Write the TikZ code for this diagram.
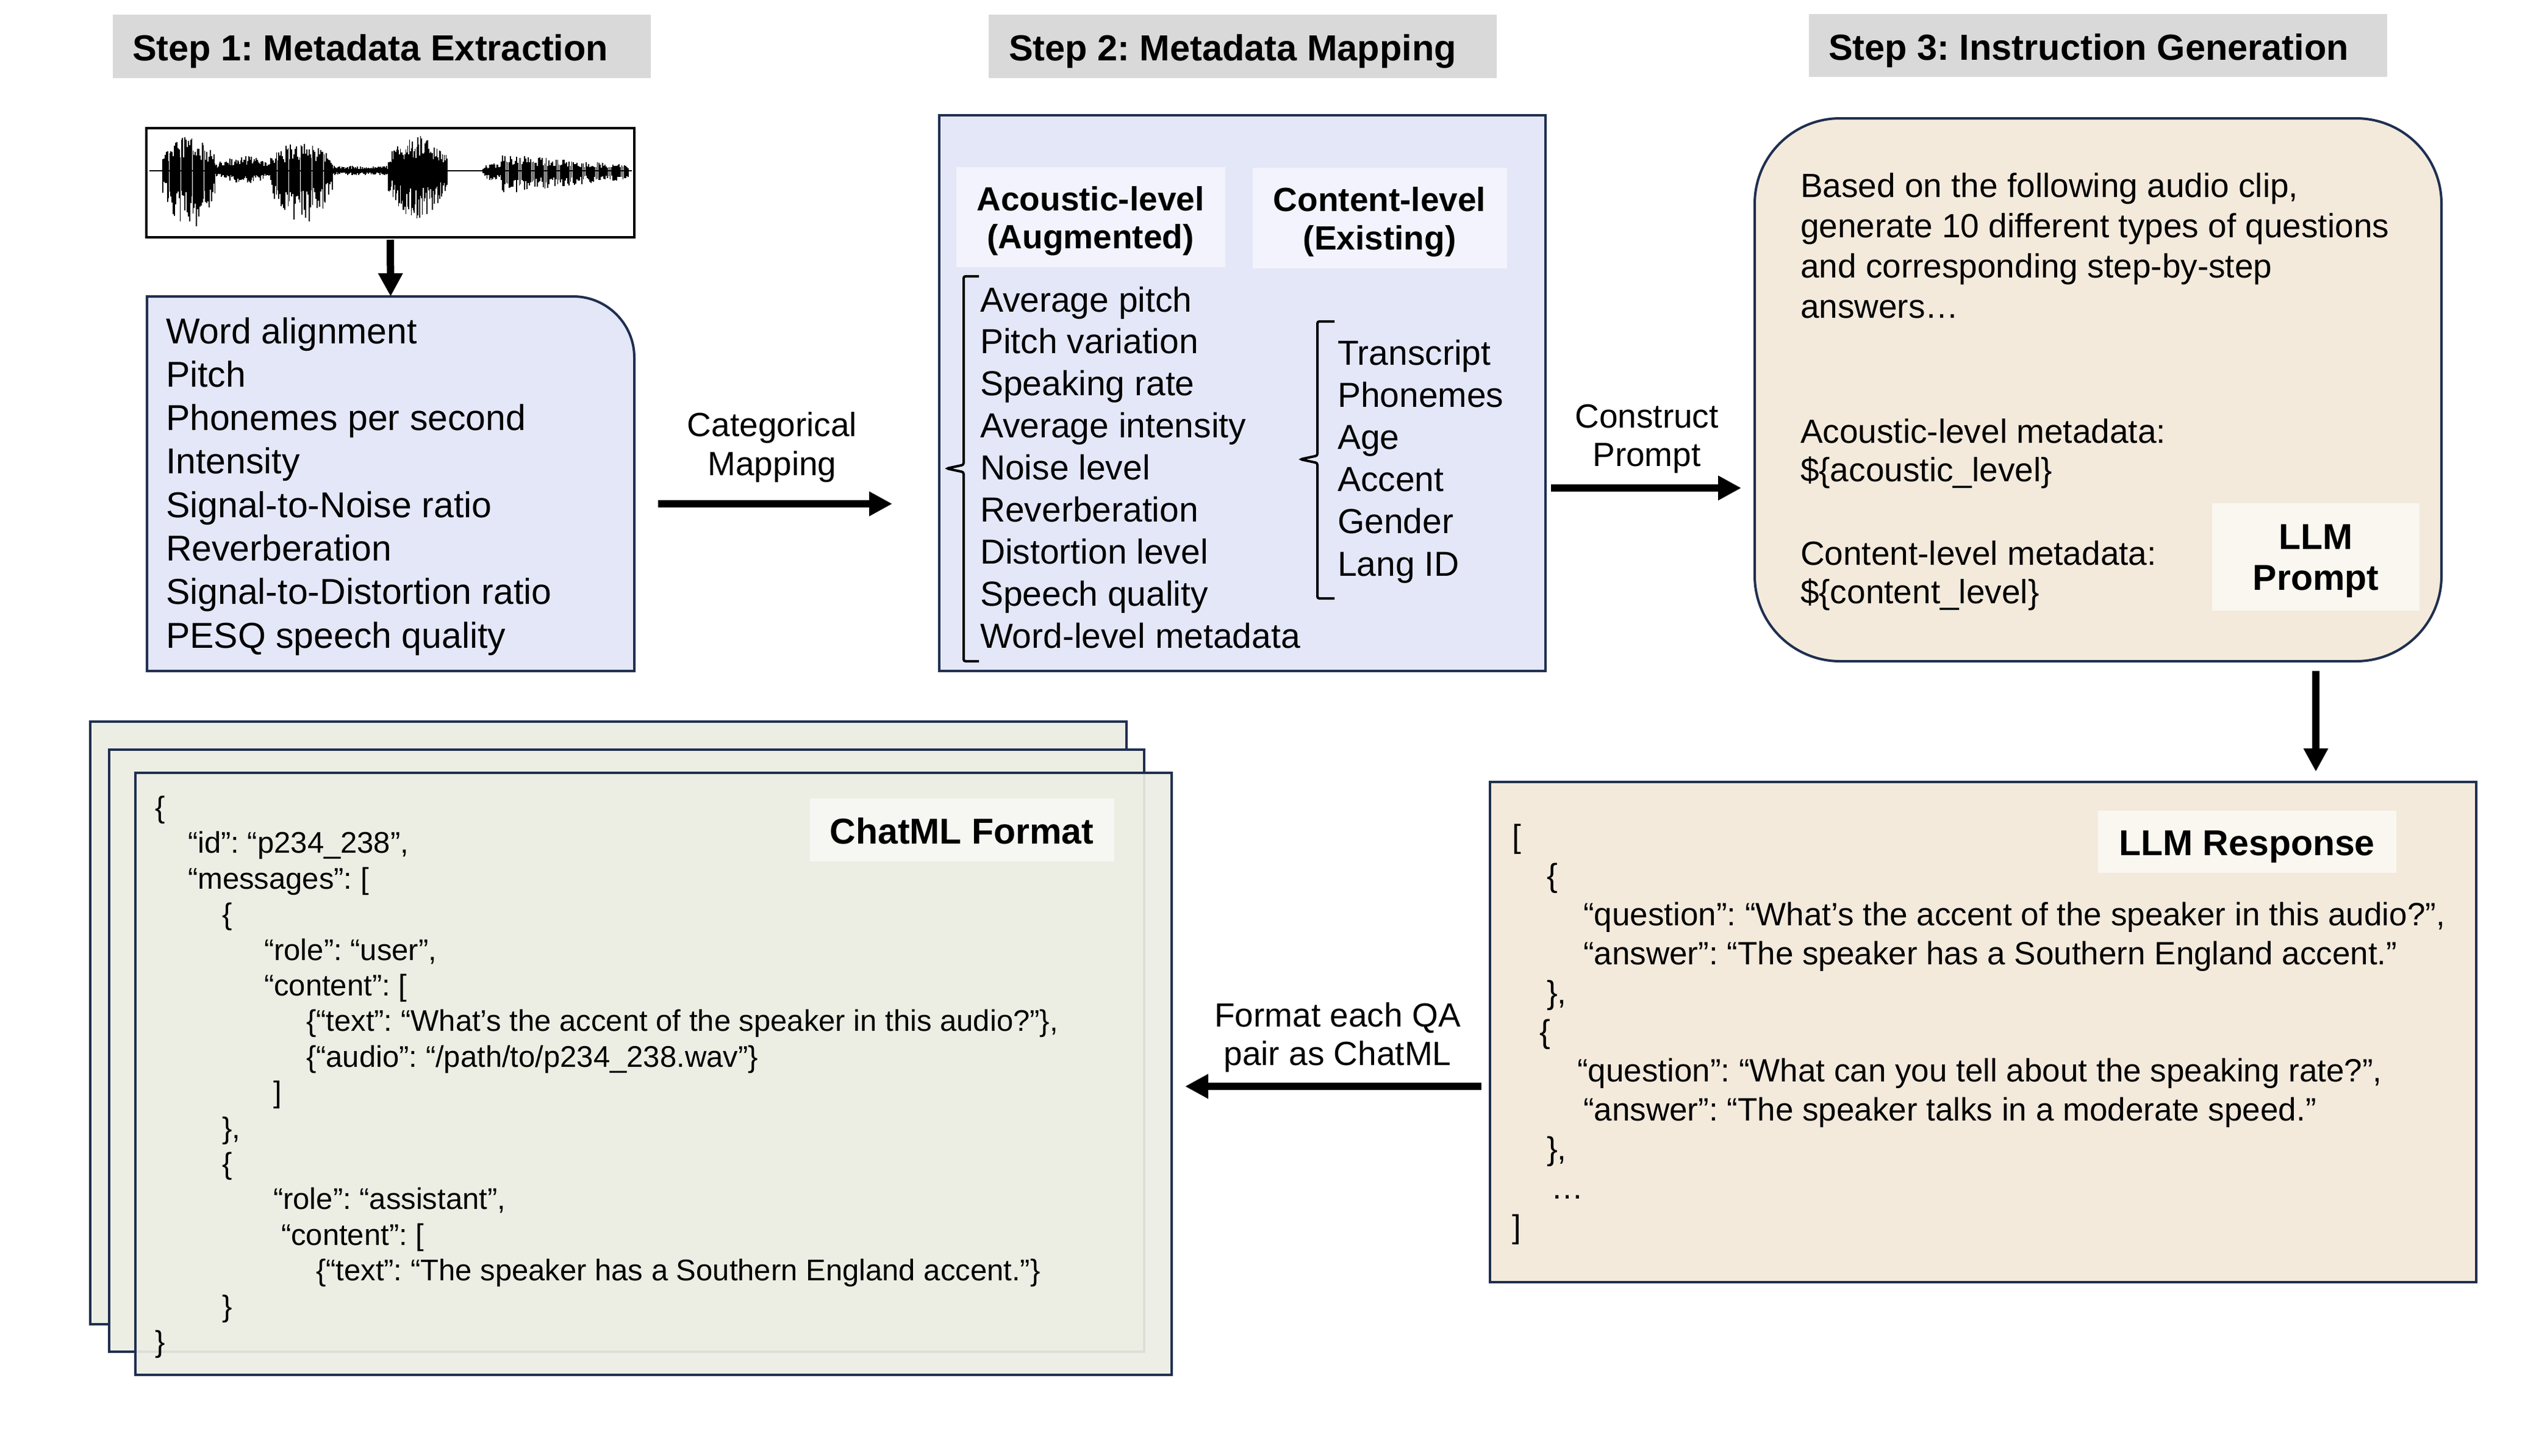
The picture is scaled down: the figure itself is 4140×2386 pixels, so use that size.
\documentclass[tikz,border=0pt]{standalone}
\usepackage{fontspec}
\setmainfont{Liberation Sans}
\usetikzlibrary{arrows.meta}
\frenchspacing
\definecolor{navy}{HTML}{1F2F50}
\definecolor{lav}{HTML}{E4E7F8}
\definecolor{lavhdr}{HTML}{F2F3FC}
\definecolor{beige}{HTML}{F3EADC}
\definecolor{beigelbl}{HTML}{FAF7F0}
\definecolor{sage}{HTML}{ECEEE4}
\definecolor{sagelbl}{HTML}{F6F7F2}
\definecolor{titlegray}{HTML}{D9D9D9}
\newcommand\fntBox{\fontsize{59pt}{71pt}\selectfont}
\newcommand\fntList{\fontsize{57pt}{69pt}\selectfont}
\newcommand\fntPr{\fontsize{55pt}{66pt}\selectfont}
\newcommand\fntResp{\fontsize{53pt}{64pt}\selectfont}
\newcommand\fntChat{\fontsize{49pt}{58pt}\selectfont}
\newcommand\fntEdge{\fontsize{55pt}{64pt}\selectfont}
\newcommand\fntTitle{\fontsize{59.5pt}{70pt}\selectfont\bfseries}
\newcommand\fntHdr{\fontsize{55pt}{64pt}\selectfont\bfseries}
\newcommand\fntLbl{\fontsize{59pt}{68pt}\selectfont\bfseries}
\begin{document}
\begin{tikzpicture}[x=1pt,y=-1pt,
  txt/.style={anchor=base west,inner sep=0pt,outer sep=0pt},
  ctxt/.style={anchor=base,inner sep=0pt,outer sep=0pt},
  bg/.style={anchor=north west,inner sep=0pt,outer sep=0pt,draw=none},
  frame/.style={anchor=north west,inner sep=0pt,outer sep=0pt,draw=navy,line width=4pt},
  arr/.style={line width=12pt,-{Triangle[length=38pt,width=38pt]}},
  brk/.style={line width=4pt,rounded corners=3pt},
  wavel/.style={line width=1.8pt}]

\path[fill=white] (0,0) rectangle (4140,2386);
\useasboundingbox (0,0) rectangle (4140,2386);

% ---------- step titles ----------
\node[bg,fill=titlegray,minimum width=882pt,minimum height=104pt] (t1) at (185,24) {};
\node[txt,font=\fntTitle] (t1x) at (217,99) {Step 1: Metadata Extraction};
\node[bg,fill=titlegray,minimum width=833pt,minimum height=104pt] (t2) at (1621,24) {};
\node[txt,font=\fntTitle] (t2x) at (1654,99) {Step 2: Metadata Mapping};
\node[bg,fill=titlegray,minimum width=948pt,minimum height=103pt] (t3) at (2966,23) {};
\node[txt,font=\fntTitle] (t3x) at (2998,98) {Step 3: Instruction Generation};

% ---------- waveform ----------
\node[bg,draw=black,line width=4pt,fill=white,minimum width=800pt,minimum height=179pt] (wave) at (240,210) {};
\pgfmathsetseed{12345}
\foreach \xa/\xb/\up/\dn/\st/\ty in {267/353/57/97/1.9/0, 353/443/25/22/1.6/0, 444/546/50/87/1.9/0, 546/636/8/7/1.6/1, 637/733/58/80/1.5/0, 792/822/14/17/1.6/0, 822/1031/28/38/2.1/2}{
  \pgfmathtruncatemacro\wn{(\xb-\xa)/\st}
  \foreach \k in {0,...,\wn}{
    \pgfmathsetmacro\wt{\k*\st/(\xb-\xa)}
    \pgfmathsetmacro\wf{(\ty==0)*(0.45+0.55*sin(180*\wt))+(\ty==1)+(\ty==2)*(1-0.65*\wt)}
    \pgfmathsetmacro\wyu{280-\up*\wf*(0.35+0.65*rnd)}
    \pgfmathsetmacro\wyd{280+\dn*\wf*(0.35+0.65*rnd)}
    \draw[wavel] ({\xa+\k*\st},\wyu) -- ({\xa+\k*\st},\wyd);
  }
}
\draw[line width=1.5pt] (245,280) -- (1036,280);

% ---------- box 1 ----------
\node[bg,minimum width=799pt,minimum height=614pt] (b1) at (241,486) {};
\draw[navy,line width=4pt,fill=lav] (b1.south west) -- (b1.north west) -- ([xshift=-100pt]b1.north east) .. controls ([xshift=-45pt]b1.north east) and ([yshift=-45pt]b1.north east) .. ([yshift=-100pt]b1.north east) -- (b1.south east) -- cycle;
\foreach \t [count=\i from 0] in {Word alignment,Pitch,Phonemes per second,Intensity,Signal-to-Noise ratio,Reverberation,Signal-to-Distortion ratio,PESQ speech quality}
  \node[txt,font=\fntBox] (b1t\i) at (272,{563+71.3*\i}) {\t};

% ---------- middle box ----------
\node[frame,fill=lav,minimum width=994pt,minimum height=911pt] (mid) at (1540,189) {};
\node[bg,fill=lavhdr,minimum width=441pt,minimum height=164pt] (ah) at (1568,274) {};
\node[bg,fill=lavhdr,minimum width=417pt,minimum height=165pt] (ch) at (2054,275) {};
\node[ctxt,font=\fntHdr] (ah1) at (1788,345) {Acoustic-level};
\node[ctxt,font=\fntHdr] (ah2) at (1788,407) {(Augmented)};
\node[ctxt,font=\fntHdr] (ch1) at (2262,346) {Content-level};
\node[ctxt,font=\fntHdr] (ch2) at (2262,409) {(Existing)};
\draw[brk] (1605,453) -- (1580,453) -- (1580,762) -- (1552,768) -- (1580,774) -- (1580,1084) -- (1605,1084);
\foreach \t [count=\i from 0] in {Average pitch,Pitch variation,Speaking rate,Average intensity,Noise level,Reverberation,Distortion level,Speech quality,Word-level metadata}
  \node[txt,font=\fntList] (al\i) at (1607,{511+68.9*\i}) {\t};
\draw[brk] (2188,527) -- (2160,527) -- (2160,747) -- (2132,753) -- (2160,759) -- (2160,981) -- (2188,981);
\foreach \t [count=\i from 0] in {Transcript,Phonemes,Age,Accent,Gender,Lang ID}
  \node[txt,font=\fntList] (cl\i) at (2193,{598+69.2*\i}) {\t};

% ---------- prompt box ----------
\node[frame,fill=beige,rounded corners=140pt,minimum width=1126pt,minimum height=890pt] (prompt) at (2877,194) {};
\node[txt,font=\fntPr] (p1) at (2952,323) {Based on the following audio clip,};
\node[txt,font=\fntPr] (p2) at (2952,389) {generate 10 different types of questions};
\node[txt,font=\fntPr] (p3) at (2952,455) {and corresponding step-by-step};
\node[txt,font=\fntPr] (p4) at (2952,521) {answers…};
\node[txt,font=\fntPr] (p5) at (2952,726) {Acoustic-level metadata:};
\node[txt,font=\fntPr] (p6) at (2952,789) {\$\{acoustic\_level\}};
\node[txt,font=\fntPr] (p7) at (2952,926) {Content-level metadata:};
\node[txt,font=\fntPr] (p8) at (2952,989) {\$\{content\_level\}};
\node[bg,fill=beigelbl,minimum width=340pt,minimum height=176pt] (lp) at (3627,825) {};
\node[ctxt,font=\fntLbl] (lp1) at (3797,900) {LLM};
\node[ctxt,font=\fntLbl] (lp2) at (3797,967) {Prompt};

% ---------- response box ----------
\node[frame,fill=beige,minimum width=1617pt,minimum height=820pt] (resp) at (2443,1282) {};
\node[bg,fill=beigelbl,minimum width=489pt,minimum height=102pt] (lr) at (3440,1329) {};
\node[ctxt,font=\fntLbl] (lr1) at (3684,1402) {LLM Response};
\node[txt,font=\fntResp] (r1) at (2479,1389) {[};
\node[txt,font=\fntResp] (r2) at (2536,1453) {\{};
\node[txt,font=\fntResp] (r3) at (2596,1517) {“question”: “What’s the accent of the speaker in this audio?”,};
\node[txt,font=\fntResp] (r4) at (2596,1581) {“answer”: “The speaker has a Southern England accent.”};
\node[txt,font=\fntResp] (r5) at (2536,1645) {\},};
\node[txt,font=\fntResp] (r6) at (2524,1709) {\{};
\node[txt,font=\fntResp] (r7) at (2586,1773) {“question”: “What can you tell about the speaking rate?”,};
\node[txt,font=\fntResp] (r8) at (2596,1837) {“answer”: “The speaker talks in a moderate speed.”};
\node[txt,font=\fntResp] (r9) at (2536,1901) {\},};
\node[txt,font=\fntResp] (r10) at (2543,1965) {…};
\node[txt,font=\fntResp] (r11) at (2479,2029) {]};

% ---------- ChatML stack ----------
\node[frame,fill=sage,minimum width=1699pt,minimum height=988pt] (cb3) at (148,1183) {};
\node[frame,fill=sage,minimum width=1697pt,minimum height=987pt] (cb2) at (179,1229) {};
\node[frame,fill=sage,fill opacity=0.92,minimum width=1699pt,minimum height=987pt] (cb1) at (222,1267) {};
\node[bg,fill=sagelbl,minimum width=499pt,minimum height=103pt] (cm) at (1328,1309) {};
\node[ctxt,font=\fntLbl] (cm1) at (1577,1383) {ChatML Format};
\node[txt,font=\fntChat] (c1) at (254,1340) {\{};
\node[txt,font=\fntChat] (c2) at (308,1398) {“id”: “p234\_238”,};
\node[txt,font=\fntChat] (c3) at (308,1457) {“messages”: [};
\node[txt,font=\fntChat] (c4) at (364,1515) {\{};
\node[txt,font=\fntChat] (c5) at (433,1574) {“role”: “user”,};
\node[txt,font=\fntChat] (c6) at (433,1632) {“content”: [};
\node[txt,font=\fntChat] (c7) at (502,1690) {\{“text”: “What’s the accent of the speaker in this audio?”\},};
\node[txt,font=\fntChat] (c8) at (502,1749) {\{“audio”: “/path/to/p234\_238.wav”\}};
\node[txt,font=\fntChat] (c9) at (448,1807) {]};
\node[txt,font=\fntChat] (c10) at (364,1866) {\},};
\node[txt,font=\fntChat] (c11) at (364,1924) {\{};
\node[txt,font=\fntChat] (c12) at (448,1982) {“role”: “assistant”,};
\node[txt,font=\fntChat] (c13) at (461,2041) {“content”: [};
\node[txt,font=\fntChat] (c14) at (518,2099) {\{“text”: “The speaker has a Southern England accent.”\}};
\node[txt,font=\fntChat] (c15) at (364,2158) {\}};
\node[txt,font=\fntChat] (c16) at (254,2216) {\}};

% ---------- connectors ----------
\coordinate (yA) at (0,826);
\coordinate (yB) at (0,800);
\coordinate (xC) at (3797,0);
\coordinate (yD) at (0,1781);
\draw[arr,shorten <=4pt] (wave.south) -- (b1.north);
\draw[arr,shorten <=39pt,shorten >=77pt] (b1.east |- yA) -- (mid.west |- yA);
\draw[arr,shorten <=9pt,shorten >=22pt] (mid.east |- yB) -- (prompt.west |- yB);
\draw[arr,shorten <=16pt,shorten >=17pt] (prompt.south -| xC) -- (resp.north -| xC);
\draw[arr,shorten <=14pt,shorten >=22pt] (resp.west |- yD) -- (cb1.east |- yD);

% ---------- connector labels ----------
\node[ctxt,font=\fntEdge] (e1a) at (1266,715) {Categorical};
\node[ctxt,font=\fntEdge] (e1b) at (1266,779) {Mapping};
\node[ctxt,font=\fntEdge] (e2a) at (2700,701) {Construct};
\node[ctxt,font=\fntEdge] (e2b) at (2700,764) {Prompt};
\node[ctxt,font=\fntEdge] (e3a) at (2193,1683) {Format each QA};
\node[ctxt,font=\fntEdge] (e3b) at (2193,1746) {pair as ChatML};
\end{tikzpicture}
\end{document}
